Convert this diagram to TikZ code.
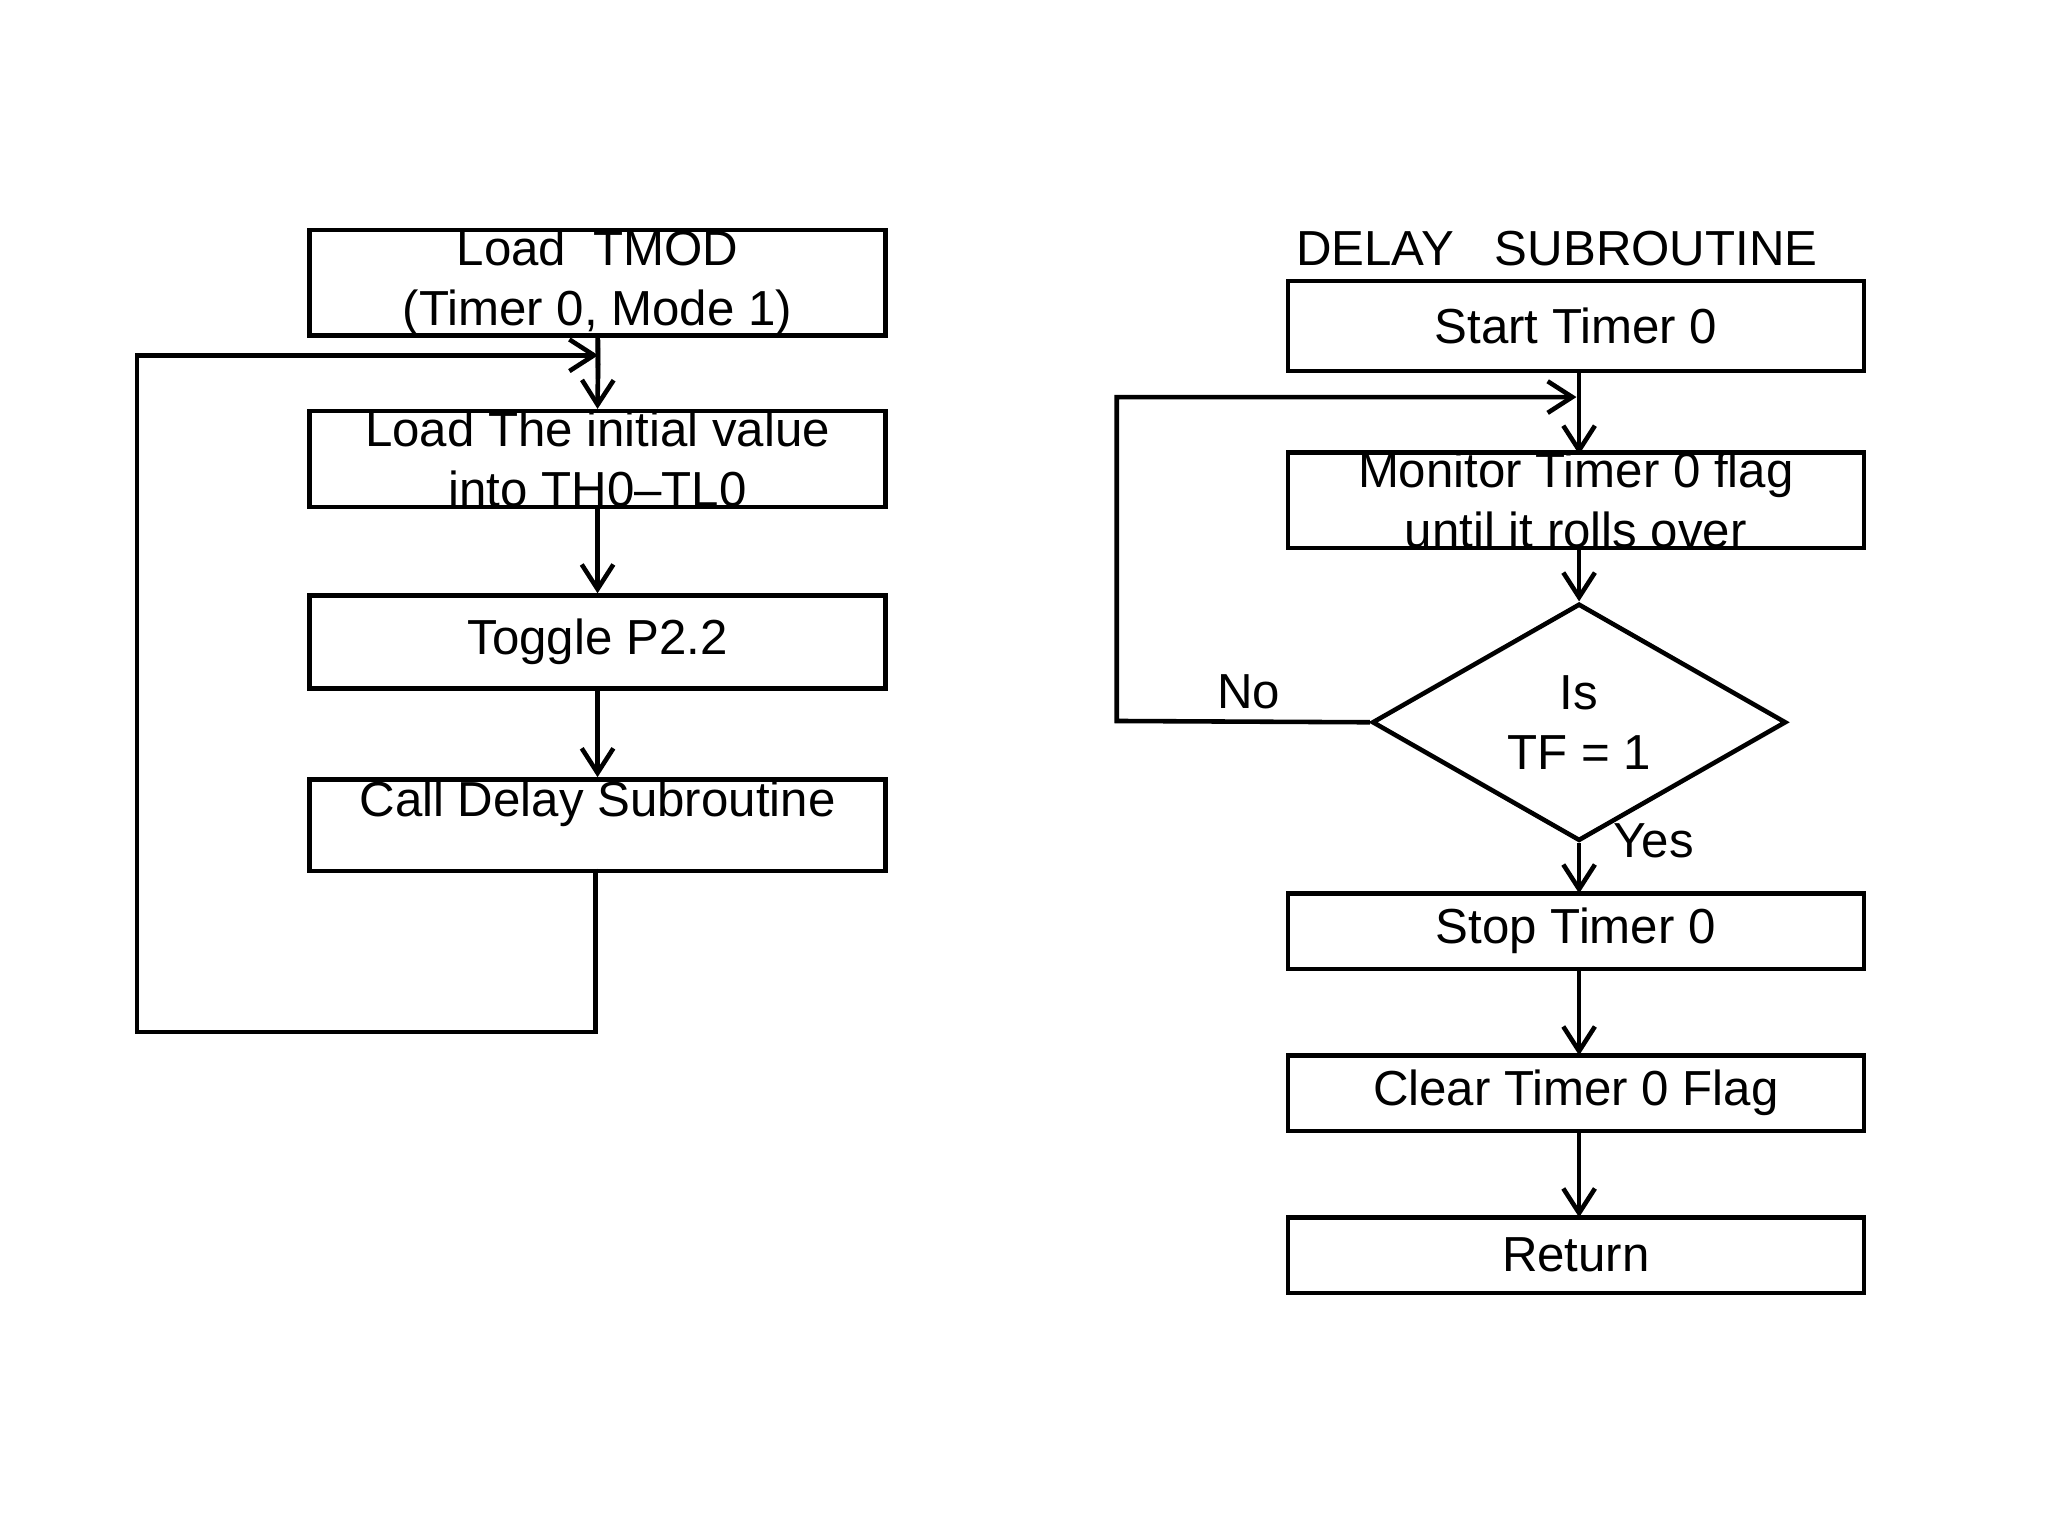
\documentclass[tikz,border=0pt]{standalone}
\usepackage{fontspec}
\setmainfont{Liberation Sans}
\usetikzlibrary{arrows.meta,shapes.geometric}
\begin{document}
\begin{tikzpicture}[x=0.013061cm,y=-0.013061cm,
  box/.style={draw,line width=1.3pt,minimum width=441\unitlen,align=center,inner sep=0pt},
  arr/.style={-{Straight Barb[length=7pt,width=9pt]},line width=1.3pt},
  ln/.style={line width=1.3pt},
  font=\fontsize{14}{17}\selectfont]
\newlength\unitlen \setlength\unitlen{0.013061cm}
\useasboundingbox (0,0) rectangle (1568,1176);
% left
\node[box,minimum height=71\unitlen] (a) at (457.5,216.5) {Load\ \ TMOD\\(Timer 0, Mode 1)};
\node[box,minimum height=71\unitlen] (b) at (457.5,351.5) {Load The initial value\\into TH0--TL0};
\node[box,minimum height=71\unitlen] (c) at (457.5,491.5) {Toggle P2.2};
\node[box,minimum height=70\unitlen,anchor=north,text depth=40\unitlen] (d) at (457.5,595) {Call Delay Subroutine};
\draw[ln] (a.south) -- (458,290);
\coordinate (l1) at (456,790);
\coordinate (l2) at (105,790);
\coordinate (l3) at (105,272);
\coordinate (l4) at (458,272);
\draw[arr] (458,260) -- (b.north);
\draw[arr] (b.south) -- (c.north);
\draw[arr] (c.south) -- (d.north);
\draw[arr] (456,665) -- (l1) -- (l2) -- (l3) -- (l4);
% right
\node (t) at (1192,190) {DELAY\ \ \ SUBROUTINE};
\node[box,minimum height=69\unitlen] (s) at (1206.5,249.5) {Start Timer 0};
\node[box,minimum height=70\unitlen] (m) at (1206.5,383) {Monitor Timer 0 flag\\until it rolls over};
\node[draw,diamond,line width=1.3pt,minimum width=317\unitlen,minimum height=128\unitlen,inner sep=0pt,align=center] (q) at (1209,553) {Is\\TF = 1};
\node[box,minimum height=58\unitlen] (st) at (1206.5,713) {Stop Timer 0};
\node[box,minimum height=58\unitlen] (cl) at (1206.5,837) {Clear Timer 0 Flag};
\node[box,minimum height=58\unitlen] (r) at (1206.5,961) {Return};
\draw[arr] (1209,284) -- (1209,348);
\draw[arr] (1209,418) -- (q.north);
\draw[arr] (q.south) -- (1209,684);
\draw[arr] (1209,742) -- (1209,808);
\draw[arr] (1209,866) -- (1209,932);
\coordinate (n1) at (855,552);
\coordinate (n2) at (855,304);
\coordinate (n3) at (1207,304);
\draw[arr] (q.west) -- (n1) -- (n2) -- (n3);
\node at (956,530) {No};
\node at (1266,644) {Yes};
\end{tikzpicture}
\end{document}
